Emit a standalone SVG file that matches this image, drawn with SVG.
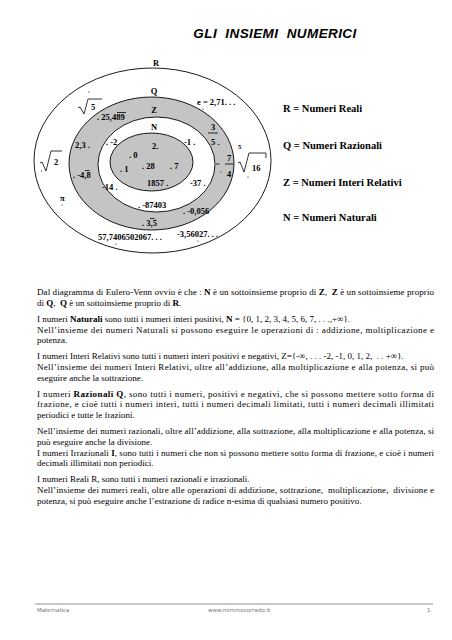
<svg xmlns="http://www.w3.org/2000/svg" width="452" height="640" viewBox="0 0 452 640">
<style>
.dg{font-family:"Liberation Serif",serif;font-weight:bold;font-size:8.5px;fill:#000}
.sm{font-size:6.5px}
.lg{font-family:"Liberation Serif",serif;font-weight:bold;font-size:10.5px;fill:#000}
.bd{font-family:"Liberation Serif",serif;font-size:9px;fill:#000;white-space:pre}
.b{font-weight:bold}
.ft{font-family:"DejaVu Sans",sans-serif;font-size:5.5px;fill:#777}
.ttl{font-family:"Liberation Sans",Arial,sans-serif;font-weight:bold;font-style:italic;font-size:13.5px;letter-spacing:0.4px;white-space:pre}
.ln{fill:none;stroke:#000;stroke-width:0.8}
.el{stroke:#000;stroke-width:0.9}
.gray{fill:#c4c4c4}
.wh{fill:#fff}
</style>
<rect width="452" height="640" fill="#fff"/>
<text class="ttl" x="275" y="38" text-anchor="middle">GLI  INSIEMI  NUMERICI</text>

<g id="set-R"><ellipse class="el wh" cx="152.5" cy="160.5" rx="118.5" ry="92.5"/><text class="dg" x="156" y="66" text-anchor="middle">R</text></g>
<g id="set-Q"><ellipse class="el gray" cx="151.5" cy="163.5" rx="82.5" ry="66.5"/><text class="dg" x="154" y="94" text-anchor="middle">Q</text></g>
<g id="set-Z"><ellipse class="el wh" cx="156.5" cy="164.5" rx="58.5" ry="47.5"/><text class="dg" x="154" y="113" text-anchor="middle">Z</text></g>
<g id="set-N"><ellipse class="el gray" cx="151.5" cy="162" rx="41.5" ry="29"/><text class="dg" x="154" y="130" text-anchor="middle">N</text></g>

<g id="elements">
<text class="dg" x="197" y="105">e = 2,71. . .</text><circle cx="203" cy="109" r="0.6"/>
<circle cx="89" cy="92" r="0.6"/><path class="ln" d="M78 108 L80 107 L84 114 L88 99 L102 99"/><text class="dg" x="91" y="110">5</text>
<text class="dg" x="97" y="120">. 25,489</text><path class="ln" d="M117 112.5 H126"/>
<text class="dg" x="75" y="148">2,3 .</text>
<text class="dg" x="106" y="145">. -2</text>
<text class="dg" x="152" y="149">2.</text>
<text class="dg" x="184" y="145">-1 .</text>
<text class="dg" x="211" y="130">3</text><path class="ln" d="M208 133 H218"/><text class="dg" x="211" y="145">5 .</text>
<text class="dg" x="129" y="158">. 0</text>
<text class="dg" x="120" y="172">. 1</text>
<text class="dg" x="142" y="169">. 28</text>
<text class="dg" x="170" y="169">. 7</text>
<text class="dg" x="147" y="186">1857 .</text>
<text class="dg" x="190" y="186">-37 .</text>
<text class="dg" x="102" y="190">-14 .</text>
<text class="dg" x="73" y="178">. -4,8</text><path class="ln" d="M85 170.5 H89.5"/>
<path class="ln" d="M40 163 L42 162 L46 171 L51 151 L62 151"/><text class="dg" x="54" y="165">2</text><circle cx="41.5" cy="171" r="0.6"/>
<text class="dg" x="60" y="201">π</text><circle cx="62" cy="205" r="0.6"/>
<text class="dg" x="138" y="208">. -87403</text>
<text class="dg" x="183" y="214">. -0,056</text>
<text class="dg" x="142" y="226">. 3,5</text><path class="ln" d="M150 218.5 H154.5"/>
<text class="dg" x="98" y="240">57,7406502067. . .</text><circle cx="116" cy="244" r="0.6"/>
<text class="dg" x="177" y="237">-3,56027. . .</text><circle cx="198" cy="241" r="0.6"/>
<path class="ln" d="M216 164 H219.5"/><circle cx="221" cy="172" r="0.6"/>
<text class="dg" x="227" y="161">7</text><path class="ln" d="M225 164 H234"/><text class="dg" x="227" y="177">4</text>
<text class="dg sm" x="238" y="149">5</text><path class="ln" d="M238 163 L240 162 L244 172 L249 153 L266 153 L266 158"/><text class="dg" x="252" y="171">16</text><circle cx="248" cy="177" r="0.6"/>
</g>

<g id="legend">
<text class="lg" x="283" y="112">R = Numeri Reali</text>
<text class="lg" x="283" y="149">Q = Numeri Razionali</text>
<text class="lg" x="283" y="185.5">Z = Numeri Interi Relativi</text>
<text class="lg" x="283" y="221">N = Numeri Naturali</text>
</g>

<g id="body">
<text class="bd" x="37" y="295.2" textLength="397" lengthAdjust="spacing">Dal diagramma di Eulero-Venn ovvio è che : <tspan class="b">N</tspan> è un sottoinsieme proprio di <tspan class="b">Z</tspan>,  <tspan class="b">Z</tspan> è un sottoinsieme proprio</text>
<text class="bd" x="37" y="306">di <tspan class="b">Q</tspan>,  <tspan class="b">Q</tspan> è un sottoinsieme proprio di <tspan class="b">R</tspan>.</text>
<text class="bd" x="37" y="321.8">I numeri <tspan class="b">Naturali</tspan> sono tutti i numeri interi positivi, <tspan class="b">N</tspan> = {0, 1, 2, 3, 4, 5, 6, 7, . . .,+∞}.</text>
<text class="bd" x="37" y="332.6" textLength="397" lengthAdjust="spacing">Nell’insieme dei numeri Naturali si possono eseguire le operazioni di : addizione, moltiplicazione e</text>
<text class="bd" x="37" y="343.4">potenza.</text>
<text class="bd" x="37" y="359.2">I numeri Interi Relativi sono tutti i numeri interi positivi e negativi, Z={-∞, . . . -2, -1, 0, 1, 2,  . . +∞}.</text>
<text class="bd" x="37" y="370" textLength="397" lengthAdjust="spacing">Nell’insieme dei numeri Interi Relativi, oltre all’addizione, alla moltiplicazione e alla potenza, si può</text>
<text class="bd" x="37" y="380.8">eseguire anche la sottrazione.</text>
<text class="bd" x="37" y="396.6" textLength="397" lengthAdjust="spacing">I numeri <tspan class="b">Razionali Q</tspan>, sono tutti i numeri, positivi e negativi, che si possono mettere sotto forma di</text>
<text class="bd" x="37" y="407.4" textLength="397" lengthAdjust="spacing">frazione, e cioè tutti i numeri interi, tutti i numeri decimali limitati, tutti i numeri decimali illimitati</text>
<text class="bd" x="37" y="418.2">periodici e tutte le frazioni.</text>
<text class="bd" x="37" y="434" textLength="397" lengthAdjust="spacing">Nell’insieme dei numeri razionali, oltre all’addizione, alla sottrazione, alla moltiplicazione e alla potenza, si</text>
<text class="bd" x="37" y="444.8">può eseguire anche la divisione.</text>
<text class="bd" x="37" y="455.6" textLength="397" lengthAdjust="spacing">I numeri Irrazionali <tspan class="b">I</tspan>, sono tutti i numeri che non si possono mettere sotto forma di frazione, e cioè i numeri</text>
<text class="bd" x="37" y="466.4">decimali illimitati non periodici.</text>
<text class="bd" x="37" y="482.2">I numeri Reali R, sono tutti i numeri razionali e irrazionali.</text>
<text class="bd" x="37" y="493" textLength="397" lengthAdjust="spacing">Nell’insieme dei numeri reali, oltre alle operazioni di addizione, sottrazione,  moltiplicazione,  divisione e</text>
<text class="bd" x="37" y="503.8">potenza, si può eseguire anche l’estrazione di radice n-esima di qualsiasi numero positivo.</text>
</g>

<g id="footer">
<path d="M35 604 H433" stroke="#777" stroke-width="0.8"/>
<text class="ft" x="37" y="612">Matematica</text>
<text class="ft" x="208" y="612">www.mimmocorrado.it</text>
<text class="ft" x="427" y="612">1</text>
</g>
</svg>
